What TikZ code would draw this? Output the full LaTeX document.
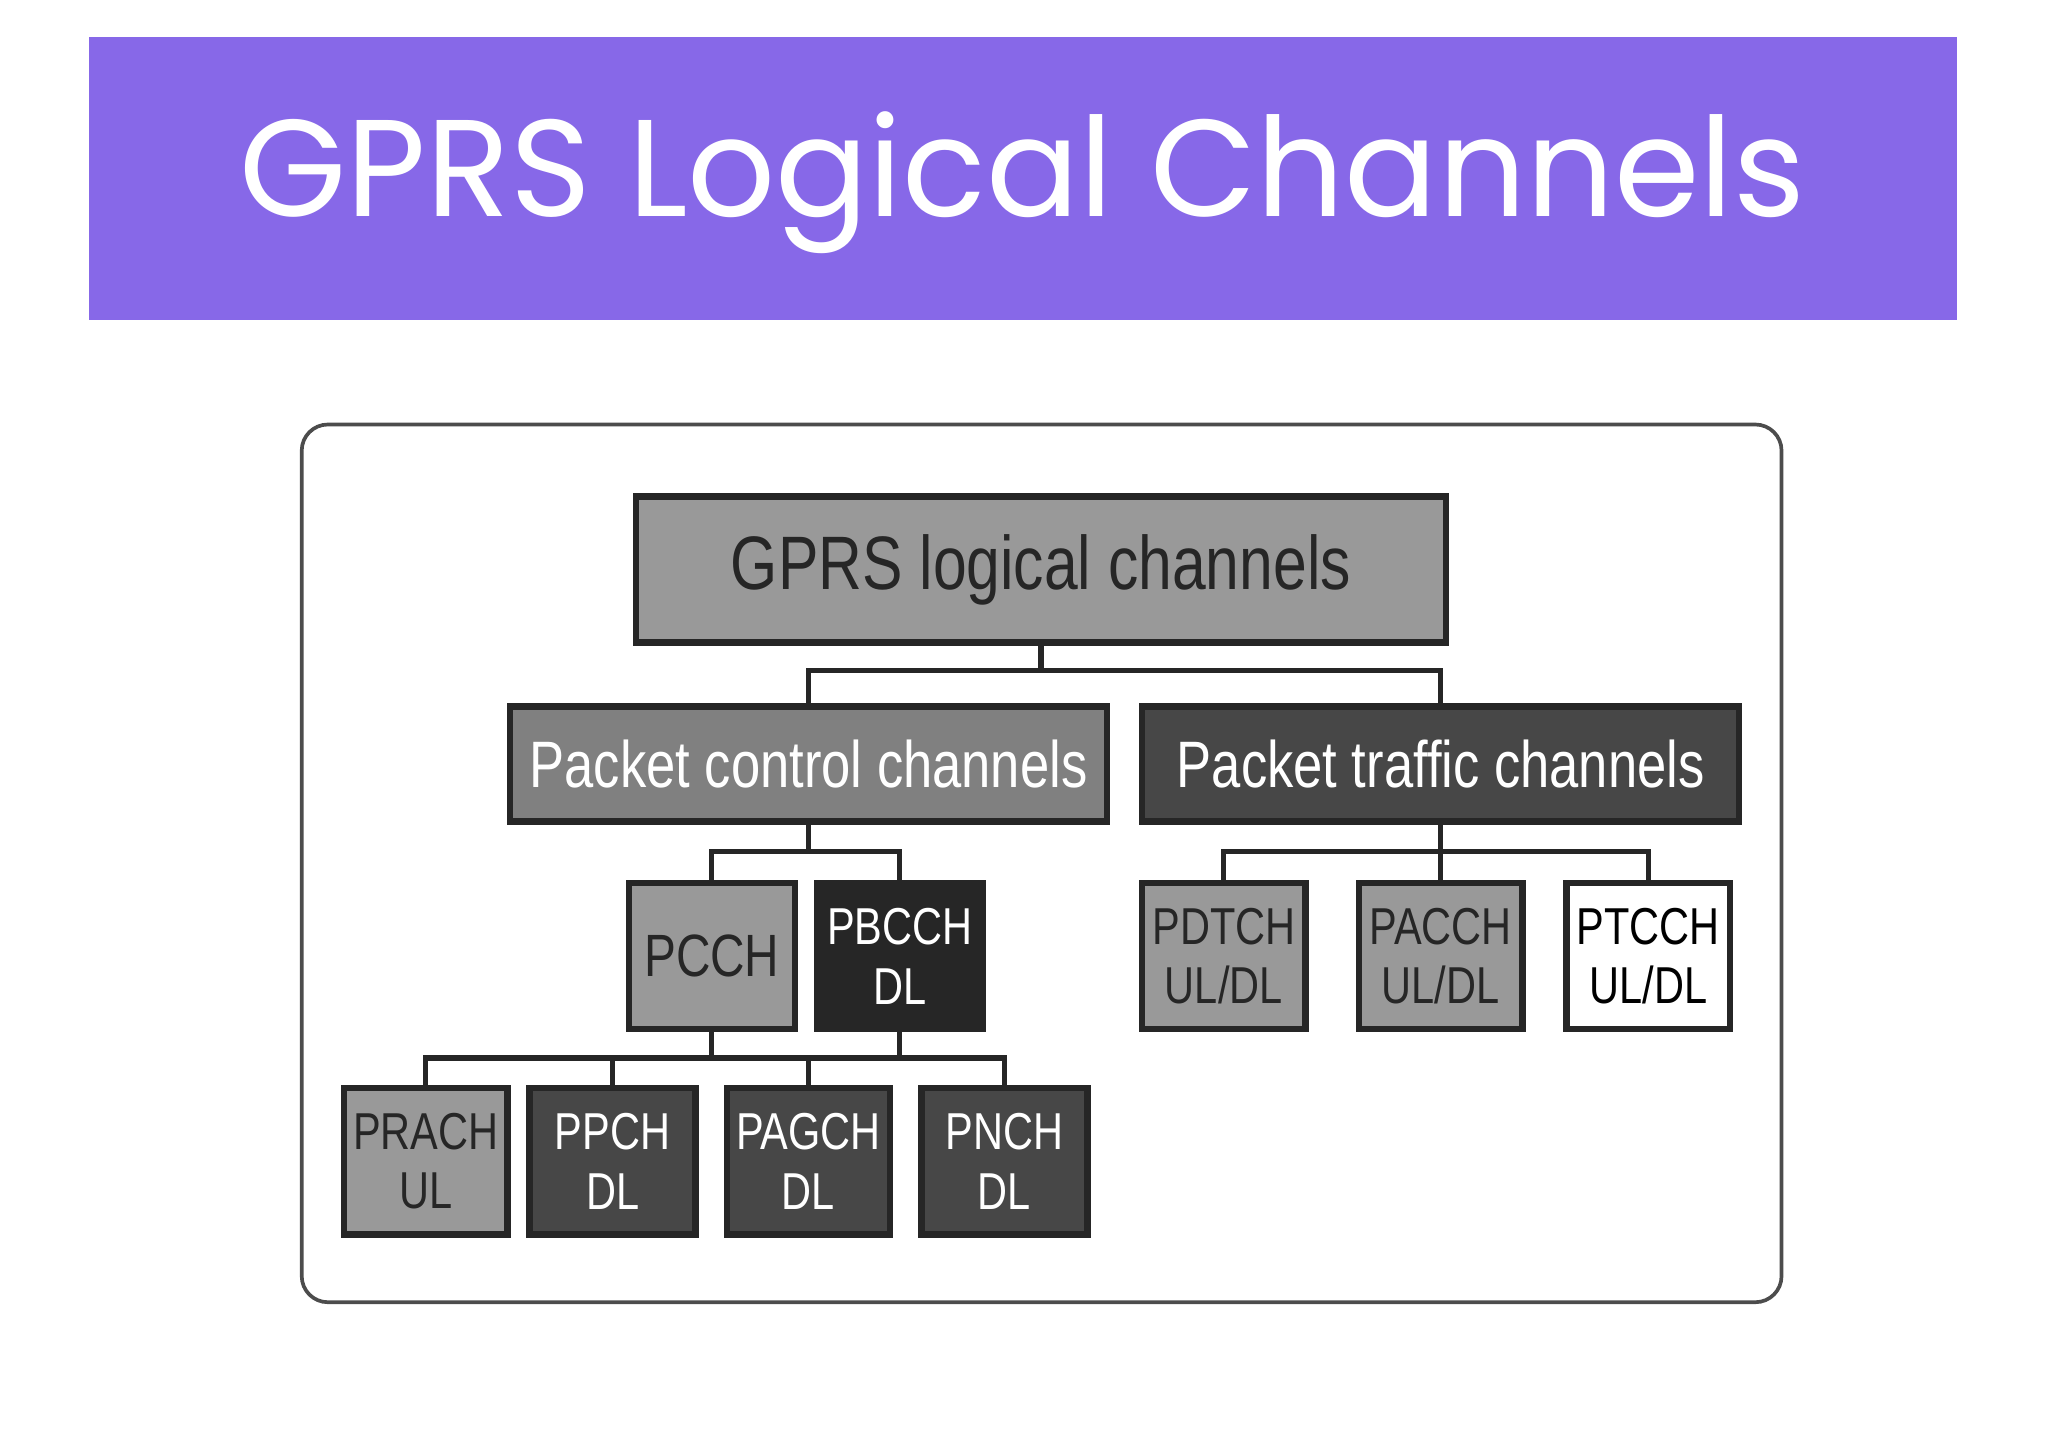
\documentclass[tikz,border=0pt]{standalone}
\usepackage{fontspec}
\setmainfont{Liberation Sans}
\newfontfamily\titlefont{Poppins}
\newfontfamily\narrowfont{Liberation Sans}[FakeStretch=0.8]
\definecolor{banner}{HTML}{8768E8}
\tikzset{
  chan/.style={draw=black!85, line width=1.4pt, align=center, inner sep=0pt,
    font=\narrowfont\fontsize{11.3}{13}\selectfont},
  small/.style={chan, minimum width=1.25cm, minimum height=1.12cm},
  light/.style={fill=black!40, text=black!85},
  dark/.style={fill=black!72, text=white},
  link/.style={draw=black!85, line width=1.1pt}
}
\begin{document}
\begin{tikzpicture}[x=0.01cm,y=-0.01cm]
\useasboundingbox (0,0) rectangle (1568,1108);
\fill[banner] (68,28) rectangle (1498,245);
\node[text=white, font=\titlefont\fontsize{30}{32}\selectfont] (title) at (783,140) {GPRS Logical Channels};
\draw[black!70, line width=0.8pt, rounded corners=0.2cm, fill=white] (231,325) rectangle (1364,997);
% top level
\node[chan, light, minimum width=6.2cm, minimum height=1.12cm, font=\narrowfont\fontsize{16.5}{18}\selectfont] (gprs) at (797,436) {GPRS logical channels};
\node[chan, fill=black!50, text=white, minimum width=4.57cm, minimum height=0.88cm, font=\narrowfont\fontsize{14.3}{16}\selectfont] (pcc) at (619,585) {Packet control channels};
\node[chan, dark, minimum width=4.57cm, minimum height=0.88cm, font=\narrowfont\fontsize{14.3}{16}\selectfont] (ptc) at (1103,585) {Packet traffic channels};
% second level
\node[small, light, minimum width=1.27cm, font=\narrowfont\fontsize{13}{14}\selectfont] (pcch) at (545,732) {PCCH};
\node[small, fill=black!85, text=white, minimum width=1.27cm] (pbcch) at (689,732) {PBCCH\\DL};
\node[small, light] (pdtch) at (937,732) {PDTCH\\UL/DL};
\node[small, light] (pacch) at (1103,732) {PACCH\\UL/DL};
\node[small, fill=white, text=black] (ptcch) at (1262,732) {PTCCH\\UL/DL};
% third level
\node[small, light] (prach) at (326,889) {PRACH\\UL};
\node[small, dark, minimum width=1.27cm] (ppch) at (469,889) {PPCH\\DL};
\node[small, dark] (pagch) at (619,889) {PAGCH\\DL};
\node[small, dark, minimum width=1.27cm] (pnch) at (769,889) {PNCH\\DL};
% connectors
\coordinate (j1) at (797,513);
\coordinate (j2) at (619,652);
\coordinate (j3) at (1103,652);
\coordinate (j4) at (545,810);
\draw[link] (gprs.south) -- (j1);
\draw[link] (pcc.north) |- (j1) -| (ptc.north);
\draw[link] (pcc.south) -- (j2);
\draw[link] (pcch.north) |- (j2) -| (pbcch.north);
\draw[link] (ptc.south) -- (pacch.north);
\draw[link] (pdtch.north) |- (j3) -| (ptcch.north);
\draw[link] (pcch.south) -- (j4);
\draw[link] (pbcch.south) -- (pbcch.south |- j4);
\draw[link] (prach.north) |- (j4) -| (pnch.north);
\draw[link] (ppch.north) -- (ppch.north |- j4);
\draw[link] (pagch.north) -- (pagch.north |- j4);
\end{tikzpicture}
\end{document}
